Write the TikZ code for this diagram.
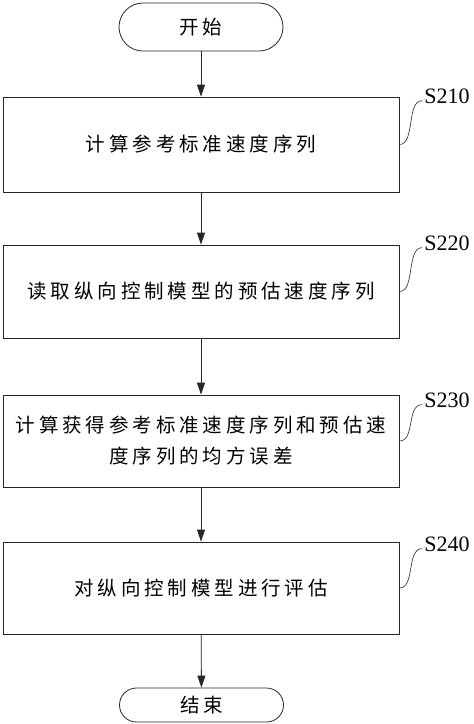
\documentclass[tikz,border=0pt]{standalone}
\usepackage{fontspec}
\setmainfont{Liberation Serif}
\newfontfamily\cjk[LetterSpace=20]{Noto Sans CJK SC}
\usetikzlibrary{arrows.meta}
\begin{document}
\begin{tikzpicture}[x=1pt,y=-1pt,
  linecol/.style={draw=black!85, line width=0.8pt},
  stepbox/.style={linecol, minimum width=396pt, inner sep=0pt, align=center,
    font=\cjk\fontsize{19.5}{31}\selectfont},
  term/.style={linecol, minimum width=164pt, inner sep=0pt,
    font=\cjk\fontsize{19.5}{31}\selectfont},
  lbl/.style={inner sep=0pt, font=\fontsize{22}{26}\selectfont},
  arr/.style={linecol, -{Triangle[length=12pt,width=8pt]}},
  lead/.style={linecol, line width=0.6pt}]
\useasboundingbox (0,0) rectangle (474,724);
\fill[white] (0,0) rectangle (474,724);
\node[term, minimum height=48pt, rounded corners=24pt] (start) at (201,27) {开始};
\node[stepbox, minimum height=95pt] (b1) at (201,144.5) {计算参考标准速度序列};
\node[stepbox, minimum height=93pt] (b2) at (201,291.5) {读取纵向控制模型的预估速度序列};
\node[stepbox, minimum height=92pt] (b3) at (201,441) {计算获得参考标准速度序列和预估速\\度序列的均方误差};
\node[stepbox, minimum height=92pt] (b4) at (201,588) {对纵向控制模型进行评估};
\node[term, minimum height=34pt, rounded corners=17pt] (end) at (201.5,705) {结束};
\draw[arr] (start) -- (b1);
\draw[arr] (b1) -- (b2);
\draw[arr] (b2) -- (b3);
\draw[arr] (b3) -- (b4);
\draw[arr] (b4) -- (end);
\node[lbl] (l1) at (447,96) {S210};
\node[lbl] (l2) at (447,243) {S220};
\node[lbl] (l3) at (447,400) {S230};
\node[lbl] (l4) at (447,544) {S240};
\foreach \b/\l in {b1/l1,b2/l2,b3/l3,b4/l4}{
  \coordinate (\l e) at ([shift={(-2,-3)}]\l.south west);
  \draw[lead] (\b.east) .. controls ++(16,0) and ([shift={(-16,0)}]\l e) .. (\l e);
}
\end{tikzpicture}
\end{document}
